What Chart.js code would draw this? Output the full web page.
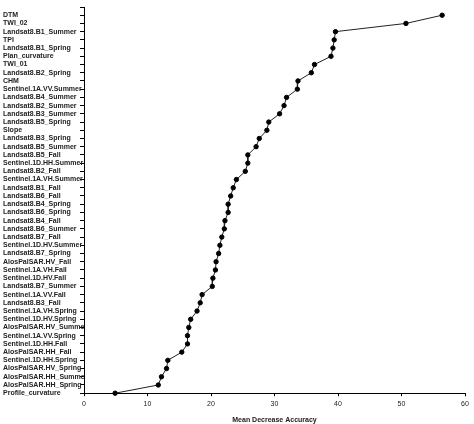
<!DOCTYPE html>
<html><head><meta charset="utf-8">
<script src="https://cdn.jsdelivr.net/npm/chart.js@4/dist/chart.umd.min.js"></script>
<style>body{margin:0;background:#fff}</style></head>
<body><canvas id="c" width="474" height="424"></canvas>
<script>
const labels = ["DTM","TWI_02","Landsat8.B1_Summer","TPI","Landsat8.B1_Spring","Plan_curvature","TWI_01","Landsat8.B2_Spring","CHM","Sentinel.1A.VV.Summer","Landsat8.B4_Summer","Landsat8.B2_Summer","Landsat8.B3_Summer","Landsat8.B5_Spring","Slope","Landsat8.B3_Spring","Landsat8.B5_Summer","Landsat8.B5_Fall","Sentinel.1D.HH.Summer","Landsat8.B2_Fall","Sentinel.1A.VH.Summer","Landsat8.B1_Fall","Landsat8.B6_Fall","Landsat8.B4_Spring","Landsat8.B6_Spring","Landsat8.B4_Fall","Landsat8.B6_Summer","Landsat8.B7_Fall","Sentinel.1D.HV.Summer","Landsat8.B7_Spring","AlosPalSAR.HV_Fall","Sentinel.1A.VH.Fall","Sentinel.1D.HV.Fall","Landsat8.B7_Summer","Sentinel.1A.VV.Fall","Landsat8.B3_Fall","Sentinel.1A.VH.Spring","Sentinel.1D.HV.Spring","AlosPalSAR.HV_Summer","Sentinel.1A.VV.Spring","Sentinel.1D.HH.Fall","AlosPalSAR.HH_Fall","Sentinel.1D.HH.Spring","AlosPalSAR.HV_Spring","AlosPalSAR.HH_Summer","AlosPalSAR.HH_Spring","Profile_curvature"];
const values = [56.4,50.7,39.6,39.4,39.2,38.9,36.3,35.8,33.7,33.6,31.9,31.5,30.8,29.1,28.8,27.6,27.1,25.8,25.8,25.4,24.0,23.5,23.1,22.7,22.7,22.2,22.1,21.7,21.4,21.2,20.8,20.7,20.3,20.2,18.6,18.3,17.8,16.8,16.5,16.3,16.3,15.4,13.2,13.0,12.2,11.7,4.9];
const xTicks = [0,10,20,30,40,50,60];
const axisTitle = "Mean Decrease Accuracy";
const allLabels = [""].concat(labels);
new Chart(document.getElementById('c'), {
  type: 'line',
  data: { labels: allLabels, datasets: [{ data: [null].concat(values), borderColor:'#222', borderWidth:1, pointBackgroundColor:'#000', pointBorderColor:'#000', pointRadius:2.2, tension:0 }] },
  options: {
    indexAxis: 'y', responsive:false, animation:false,
    layout:{padding:{left:3,right:9,top:7,bottom:0}},
    plugins:{legend:{display:false},tooltip:{enabled:false}},
    scales:{
      y:{ type:'category', offset:false, grid:{display:true,drawOnChartArea:false,drawTicks:true,tickLength:4,tickColor:'#000'}, border:{color:'#000'},
          ticks:{autoSkip:false, crossAlign:'far', padding:2, color:'#222', font:{family:'Liberation Sans, Arial',size:7,weight:'bold'}},
          afterFit(a){a.width=81;} },
      x:{ type:'linear', min:0, max:60, grid:{display:true,drawOnChartArea:false,drawTicks:true,tickLength:3,tickColor:'#000'}, border:{color:'#000'},
          afterBuildTicks(a){a.ticks=xTicks.map(v=>({value:v}));},
          ticks:{color:'#222', padding:4, font:{family:'Liberation Sans, Arial',size:7}},
          title:{display:true,text:axisTitle,color:'#222',padding:{top:3,bottom:0},font:{family:'Liberation Sans, Arial',size:7,weight:'bold'}} }
    }
  }
});
</script></body></html>
